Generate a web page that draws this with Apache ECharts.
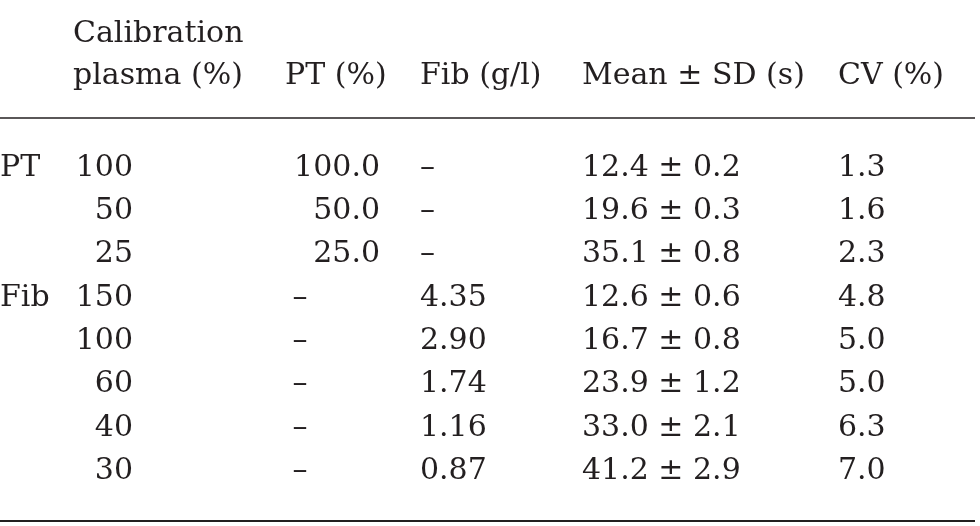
<!DOCTYPE html>
<html>
<head>
<meta charset="utf-8">
<script src="https://cdn.jsdelivr.net/npm/echarts@6/dist/echarts.min.js"></script>
<style>html,body{margin:0;padding:0;background:#fff}#chart{width:980px;height:526px}</style>
</head>
<body>
<div id="chart"></div>
<script>
// table data
const headers = ['plasma (%)', 'PT (%)', 'Fib (g/l)', 'Mean \u00b1 SD (s)', 'CV (%)'];
const groups = ['PT', '', '', 'Fib', '', '', '', ''];
const calib = ['100', '50', '25', '150', '100', '60', '40', '30'];
const ptPct = ['100.0', '50.0', '25.0', '\u2013', '\u2013', '\u2013', '\u2013', '\u2013'];
const fib = ['\u2013', '\u2013', '\u2013', '4.35', '2.90', '1.74', '1.16', '0.87'];
const meanSd = ['12.4 \u00b1 0.2', '19.6 \u00b1 0.3', '35.1 \u00b1 0.8', '12.6 \u00b1 0.6', '16.7 \u00b1 0.8', '23.9 \u00b1 1.2', '33.0 \u00b1 2.1', '41.2 \u00b1 2.9'];
const cv = ['1.3', '1.6', '2.3', '4.8', '5.0', '5.0', '6.3', '7.0'];

const font = { fontFamily: 'DejaVu Serif', fontSize: 30, fill: '#231f20' };
const rowTop = 168, rowStep = 43.3;

const txt = (x, y, text, align) => ({
  type: 'text', x, y,
  style: Object.assign({ text, textAlign: align || 'left', textVerticalAlign: 'middle' }, font)
});

const graphic = [];
graphic.push(txt(73, 34, 'Calibration'));
const headX = [73, 285, 420, 582, 838];
headers.forEach((h, i) => graphic.push(txt(headX[i], 76, h)));
graphic.push({ type: 'line', shape: { x1: 0, y1: 118, x2: 975, y2: 118 }, style: { stroke: '#231f20', lineWidth: 1.5 } });

calib.forEach((c, i) => {
  const y = rowTop + i * rowStep;
  if (groups[i]) graphic.push(txt(0, y, groups[i]));
  graphic.push(txt(133, y, c, 'right'));
  if (ptPct[i] === '\u2013') graphic.push(txt(300, y, ptPct[i], 'center'));
  else graphic.push(txt(380, y, ptPct[i], 'right'));
  graphic.push(txt(420, y, fib[i]));
  graphic.push(txt(582, y, meanSd[i]));
  graphic.push(txt(838, y, cv[i]));
});
graphic.push({ type: 'line', shape: { x1: 0, y1: 521, x2: 975, y2: 521 }, style: { stroke: '#231f20', lineWidth: 2 } });

const chart = echarts.init(document.getElementById('chart'));
chart.setOption({ animation: false, graphic });
</script>
</body>
</html>
